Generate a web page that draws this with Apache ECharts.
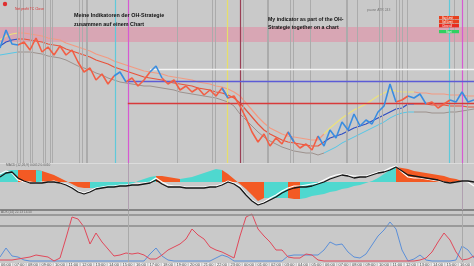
<!DOCTYPE html>
<html><head><meta charset="utf-8">
<script src="https://cdn.jsdelivr.net/npm/echarts@6/dist/echarts.min.js"></script>
<style>html,body{margin:0;padding:0;background:#c9c9c9;overflow:hidden}#c{width:474px;height:266px}</style>
</head><body><div id="c"></div>
<script>
// ---------- data (bar index 0..79) ----------
const price = [112,130,116,115,118,110,122,108,113,105, 114,105,110,98,88,92,80,86,76,84,
  88,78,82,74,80,88,94,82,76,80, 70,74,68,72,65,70,64,72,62,64,
  54,42,28,18,26,14,22,16,28,18, 12,16,10,24,14,30,22,38,30,46,
  34,40,36,48,54,76,58,60,64,62, 66,56,58,52,56,60,58,68,58,60];
const priceTrend = "bbbrrrrrrrrrrrrrrrrbbrrrrbbrrrrrrrrrrbrrrrrrrrrrbrrrrbbbbbbbbbbbbbrrbbbrrrrbbbbb".split('');
const bandUpper = [120,124,126,127,127,126,125,124,122,121, 120,117,115,113,111,109,106,104,102,99,
  97,95,93,91,89,88,87,86,84,83, 82,81,80,78,77,76,74,73,71,68,
  64,57,50,43,37,32,29,26,24,23, 22,21,20,20,26,32,37,42,46,50,
  53,56,60,64,67,70,69,68,68,68, 67,67,66,66,66,65,65,65,64,64];
const bandMid = [114,118,120,121,121,120,119,118,116,115, 114,111,109,107,105,103,100,98,96,93,
  91,89,87,85,83,82,81,80,78,77, 76,75,74,72,71,70,68,67,65,62,
  57,50,43,36,30,26,23,20,18,17, 16,15,14,14,18,22,24,26,29,32,
  34,36,39,42,45,48,51,52,56,56, 56,56,55,55,55,54,54,54,53,53];
const bandLower = [105,106,107,108,108,108,107,106,104,103, 102,100,97,94,92,90,87,85,82,80,
  78,77,76,75,74,74,73,72,71,70, 68,67,66,65,64,63,62,60,58,54,
  46,40,34,28,23,19,16,13,11,9, 8,7,7,5,7,10,13,17,20,23,
  26,29,32,35,38,42,45,47,48,48, 48,48,47,47,47,48,48,49,50,51];
const bandTrend = "uuuddddddddddddddddddddddddddddddddddddddddddddddddddduuuuuuuuuuuuuuudddddddddddd".split('');
const zoneBand = [118, 133];
const levelPrices = [91, 79, 57];
const levelFromBar = [25, 21.3, 21.3];
const eventBars = [2.8,3.3,3.8,5,5.3,7.2,7.5,8.3,8.7,13.2,13.7,14.3,14.5,29.5,35.3,35.8,40.5,44.5,44.7,48.3,48.8,51.7,57.7,57.8,59.5,63.2,63.7,66,66.5,67,67.8,75.7,77.8];
const signalBars = [19.2, 21.3, 37.8, 40, 74.8, 77];

const macdHist = [9,11,12,12,12,12,12,11,9,7, 4,1,-2,-5,-6,-6,-6,-6,-6,-5,
  -4,-3,-2,1,3,5,6,6,5,4, 3,4,5,7,9,11,13,12,8,3,
  -2,-7,-13,-19,-16,-16,-16,-16,-16,-17, -17,-16,-14,-13,-12,-10,-9,-7,-6,-4,
  -3,-1,1,4,8,12,15,14,13,11, 10,9,8,7,6,4,3,1,0,0];
const histState = "tttooottttttttooooooooooooooooooooooooooooooooooooooooooooooooooooooooooooooooooo".split('');
const macdLine = [5,9,10,4,1,-1,-1,-1,0,0, -1,-3,-6,-10,-12,-10,-7,-6,-5,-5,
  -4,-4,-3,-3,-2,-1,2,-2,-5,-5, -5,-6,-6,-6,-6,-5,-5,-3,0,-2,
  -6,-13,-19,-23,-21,-18,-15,-11,-8,-6, -5,-5,-4,-2,0,3,5,7,6,4,
  5,5,7,9,10,12,15,11,7,6, 5,4,3,2,0,-1,0,1,1,0];
const signalLine = [8,11,9,2,0,0,-1,0,0,1, -1,-2,-5,-9,-11,-9,-6,-5,-4,-4,
  -3,-3,-2,-2,-1,0,4,0,-3,-4, -4,-5,-5,-5,-5,-4,-4,-2,1,-1,
  -4,-12,-18,-22,-20,-16,-13,-9,-6,-4, -4,-3,-2,-1,2,5,7,8,7,6,
  6,6,8,10,11,14,16,10,5,4, 4,3,2,1,0,-1,0,1,0,-4];

const adxRed = [2,2,2,3,4,5,7,6,5,1, 4,24,45,43,35,18,29,20,13,6,
  7,9,8,9,7,3,3,7,12,15, 18,23,33,27,23,15,12,10,7,4,
  26,45,48,33,26,20,12,12,5,4, 4,8,7,2,1,1,1,1,1,1,
  1,1,1,1,1,1,1,1,1,1, 2,4,10,20,29,22,10,2,3,6];
const adxBlue = [5,14,6,5,2,1,1,1,1,1, 1,1,1,1,1,1,1,1,1,1,
  1,1,1,1,1,8,14,6,2,1, 1,1,1,1,1,1,4,7,5,1,
  1,1,1,1,1,1,1,1,6,7, 7,7,7,7,12,20,17,18,10,5,
  4,8,17,26,32,40,33,12,1,3, 7,2,1,1,1,1,2,16,12,4];
const adxLevels = [36, 47];
const timeLabels = ["06:00","07:00","08:00","09:00","10:00","11:00","12:00","13:00","14:00","15:00","16:00","17:00",
  "18:00","19:00","20:00","21:00","22:00","23:00","00:00","01:00","02:00","03:00","04:00","05:00",
  "06:00","07:00","08:00","09:00","10:00","11:00","12:00","13:00","14:00","15:00","16:00","17:00"];
</script>
<script>
// fix hist states precisely
const histStateFixed = ("ttt"+"ooo"+"t"+"oooooooo"+"ttttttttttt"+"oooo"+"ttttttt"+"ooooooo"+"tttt"+"oo"+"tttttttttttttttt"+"oooooooooooooo").split('');
// ---------- styles ----------
const C = {
  bg:'#c9c9c9', red:'#f25f45', blue:'#3a8de0',
  upD:'#f39a82', midD:'#e8543c', lowD:'#9c918c',
  upU:'#ece27a', midU:'#2f4fc4', lowU:'#55c6e6',
  orange:'#f35a24', teal:'#4fd8cf', grayEv:'#ababab',
  sigColors:['#5fc9da','#d65ad2','#e6df6a','#9a3f55','#5fc9da','#d65ad2'],
  levelColors:['#f4f4f4','#5c5cd6','#d83a3a']
};
const N = price.length;
const seg = (vals, st, key) => vals.map((v,i)=>[i, (st[i]===key || (i>0 && st[i-1]===key)) ? v : '-']);
const pairs = vals => vals.map((v,i)=>[i,v]);
function ln(data, color, width, gi, z, extra){
  return Object.assign({type:'line', xAxisIndex:gi, yAxisIndex:gi, data, symbol:'none', showSymbol:false,
    lineStyle:{color, width}, itemStyle:{color}, z:z||2, silent:true, animation:false, connectNulls:false}, extra||{});
}
const lineMark = (arr) => ({symbol:['none','none'], silent:true, animation:false, label:{show:false}, data:arr});

const series = [];
// main panel: zone + levels + event lines attached to a helper series
series.push(ln(seg(bandLower, bandTrend, 'd'), C.lowD, 1, 0, 2, {
  markArea:{silent:true, itemStyle:{color:'#d8a6b4'}, data:[[{yAxis:zoneBand[0]},{yAxis:zoneBand[1]}]]},
  markLine: lineMark(
    eventBars.map(b=>({xAxis:b, lineStyle:{color:C.grayEv, width:1, type:'solid'}}))
    .concat(signalBars.map((b,k)=>({xAxis:b, lineStyle:{color:C.sigColors[k], width:1.2, type:'solid'}})))
    .concat(levelPrices.map((p,k)=>[{coord:[levelFromBar[k], p], lineStyle:{color:C.levelColors[k], width:1.3, type:'solid'}},{coord:[N-1, p]}]))
  )
}));
series.push(ln(seg(bandLower, bandTrend, 'u'), C.lowU, 1, 0, 3));
series.push(ln(seg(bandUpper, bandTrend, 'd'), C.upD, 1.2, 0, 3));
series.push(ln(seg(bandUpper, bandTrend, 'u'), C.upU, 1.2, 0, 3));
series.push(ln(seg(bandMid, bandTrend, 'd'), C.midD, 1.2, 0, 3));
series.push(ln(seg(bandMid, bandTrend, 'u'), C.midU, 1.2, 0, 3));
series.push(ln(seg(price, priceTrend, 'r'), C.red, 1.6, 0, 5));
series.push(ln(seg(price, priceTrend, 'b'), C.blue, 1.6, 0, 5));

// MACD panel
series.push(ln(seg(macdHist, histStateFixed, 'o'), C.orange, 0, 1, 2, {areaStyle:{color:C.orange, opacity:1, origin:0},
  markLine: lineMark(signalBars.filter((b,k)=>k===1||k===5).map(b=>({xAxis:b, lineStyle:{color:'#b0a0b0', width:1, type:'solid'}})))}));
series.push(ln(seg(macdHist, histStateFixed, 't'), C.teal, 0, 1, 2, {areaStyle:{color:C.teal, opacity:1, origin:0}}));
series.push(ln(pairs(signalLine), '#ffffff', 1.2, 1, 4));
series.push(ln(pairs(macdLine), '#151515', 1.3, 1, 5));

// ADX panel
series.push(ln(pairs(adxBlue), '#5b8fd8', 1, 2, 3, {
  markLine: lineMark(adxLevels.map(v=>({yAxis:v, lineStyle:{color:'#8a8a8a', width:1.5, type:'solid'}}))
    .concat(signalBars.filter((b,k)=>k===1||k===5).map(b=>({xAxis:b, lineStyle:{color:'#a9a9a9', width:1, type:'solid'}}))))
}));
series.push(ln(pairs(adxRed), '#e0485a', 1, 2, 4));

const hiddenX = (gi, lineColor, lw) => ({type:'value', gridIndex:gi, min:0, max:N-1, show:true,
  axisLine:{show:!!lineColor, onZero:false, lineStyle:{color:lineColor||'#000', width:lw||1}}, axisTick:{show:false}, axisLabel:{show:false}, splitLine:{show:false}});
const hiddenY = (gi, min, max) => ({type:'value', gridIndex:gi, min, max, show:false, splitLine:{show:false}});

const option = {
  backgroundColor: C.bg,
  animation:false,
  grid:[
    {left:0, right:0, top:0, height:163, outerBoundsMode:'none', containLabel:false},
    {left:0, right:0, top:163, height:47, outerBoundsMode:'none', containLabel:false},
    {left:0, right:0, top:211, height:51, outerBoundsMode:'none', containLabel:false}
  ],
  xAxis:[
    hiddenX(0, '#dcdcdc', 1),
    hiddenX(1, '#6e6e6e', 1.5),
    {type:'value', gridIndex:2, min:0, max:N-1, interval:2.25,
      axisLine:{show:false}, axisTick:{show:false}, splitLine:{show:false},
      axisLabel:{show:true, margin:1, fontSize:4, color:'#444', align:'left', backgroundColor:'#efefef', padding:[0,1,0,1],
        showMinLabel:true, showMaxLabel:true, hideOverlap:false,
        formatter:v=>timeLabels[Math.round(v/2.25)]||''}}
  ],
  yAxis:[hiddenY(0,-3,160), hiddenY(1,-28,19), hiddenY(2,0,51)],
  series,
  graphic:[
    {type:'text', x:74, y:11.8, z:100, style:{text:'Meine Indikatoren der OH-Strategie\nzusammen auf einem Chart', fontSize:5.4, fontWeight:'bold', fontFamily:'Liberation Sans', fill:'#111', lineHeight:8.4}},
    {type:'text', x:268, y:16, z:100, style:{text:'My indicator as part of the OH-\nStrategie together on a chart', fontSize:5.2, fontWeight:'bold', fontFamily:'Liberation Sans', fill:'#111', lineHeight:8}},
    {type:'circle', z:100, shape:{cx:5, cy:4, r:2.2}, style:{fill:'#e03030'}},
    {type:'text', x:15, y:8, z:100, style:{text:'Net profit TC Close', fontSize:3.4, fill:'#d83030', fontFamily:'Liberation Sans'}},
    {type:'text', x:367, y:8.5, z:100, style:{text:'pause ATR 243', fontSize:3.4, fill:'#777', fontFamily:'Liberation Sans'}},
    {type:'rect', z:100, shape:{x:439, y:16, width:20, height:3.4}, style:{fill:'#e8401e'}},
    {type:'rect', z:100, shape:{x:439, y:20, width:20, height:3.4}, style:{fill:'#e8401e'}},
    {type:'rect', z:100, shape:{x:439, y:24, width:20, height:3.4}, style:{fill:'#e82a1e'}},
    {type:'rect', z:100, shape:{x:439, y:30, width:20, height:3.2}, style:{fill:'#30d060'}},
    {type:'text', x:442, y:16.4, z:101, style:{text:'Buy Limit', fontSize:2.6, fill:'#fff'}},
    {type:'text', x:442, y:20.4, z:101, style:{text:'Sell Limit', fontSize:2.6, fill:'#fff'}},
    {type:'text', x:442, y:24.4, z:101, style:{text:'Close all', fontSize:2.6, fill:'#fff'}},
    {type:'text', x:446, y:30.3, z:101, style:{text:'Start', fontSize:2.6, fill:'#fff'}},
    {type:'text', x:6, y:163.5, z:100, style:{text:'MACD (12,26,9) 0.0012 0.0010', fontSize:3.2, fill:'#666'}},
    {type:'text', x:1, y:210.5, z:100, style:{text:'ADX (14) 22.13 14.50', fontSize:3.2, fill:'#666'}}
  ]
};
echarts.init(document.getElementById('c')).setOption(option);
</script>
</body></html>
